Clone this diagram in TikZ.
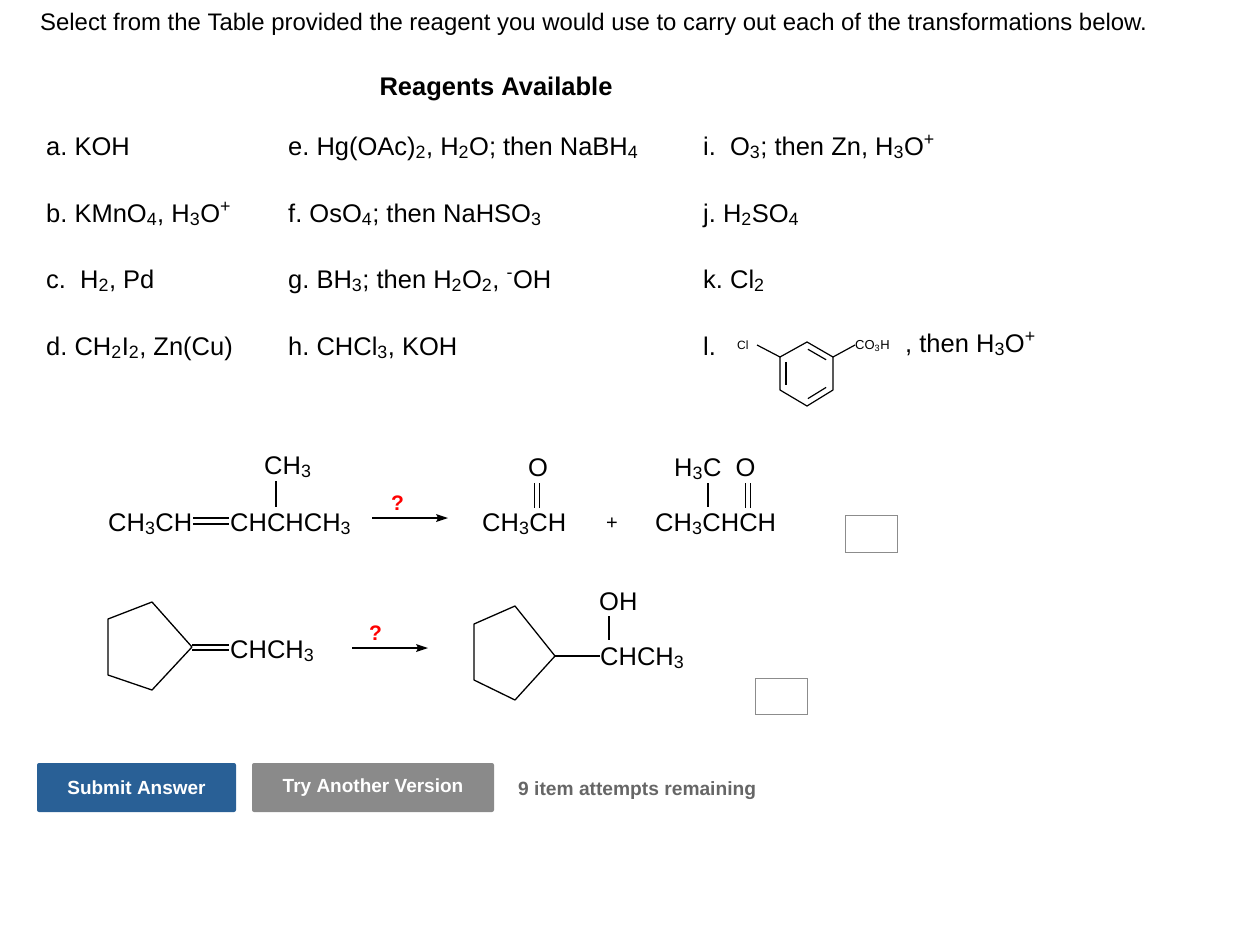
\documentclass[tikz,border=0pt]{standalone}
\usepackage{fontspec}
\setmainfont{Liberation Sans}
\usetikzlibrary{calc}
\newcommand\dn[1]{\textsubscript{#1}}
\newcommand\up[1]{\textsuperscript{#1}}
\begin{document}
\frenchspacing
\begin{tikzpicture}[x=1pt,y=-1pt,
  t/.style={anchor=base west,inner sep=0pt,font=\fontsize{25.5}{28}\selectfont},
  ch/.style={anchor=base west,inner sep=0pt,font=\fontsize{25.5}{28}\selectfont},
  bnd/.style={line width=1.3pt},
  ans/.style={draw=black!45,line width=1pt,fill=white}]
\useasboundingbox (0,0) rectangle (1236,924);
\node[t,font=\fontsize{23.9}{26}\selectfont] (title) at (40,30) {Select from the Table provided the reagent you would use to carry out each of the transformations below.};
\node[t,anchor=base,font=\bfseries\fontsize{25.5}{28}\selectfont] (hd) at (496,95) {Reagents Available};
\node[t] (a) at (46,155) {a. KOH};
\node[t] (b) at (46,222) {b. KMnO\dn4, H\dn3O\up+};
\node[t] (c) at (46,288) {c.\ \ H\dn2, Pd};
\node[t] (d) at (46,355) {d. CH\dn2I\dn2, Zn(Cu)};
\node[t] (e) at (288,155) {e. Hg(OAc)\dn2, H\dn2O; then NaBH\dn4};
\node[t] (f) at (288,222) {f. OsO\dn4; then NaHSO\dn3};
\node[t] (g) at (288,288) {g. BH\dn3; then H\dn2O\dn2, \up{-}OH};
\node[t] (h) at (288,355) {h. CHCl\dn3, KOH};
\node[t] (i) at (703,155) {i.\ \ O\dn3; then Zn, H\dn3O\up+};
\node[t] (j) at (703,222) {j. H\dn2SO\dn4};
\node[t] (k) at (703,288) {k. Cl\dn2};
\node[t] (l) at (703,355) {l.};
% benzene
\coordinate (r1) at (807,342); \coordinate (r2) at (833,357); \coordinate (r3) at (833,390);
\coordinate (r4) at (807,406); \coordinate (r5) at (780,390); \coordinate (r6) at (780,357);
\draw[line width=1.2pt,line join=round] (r1)--(r2)--(r3)--(r4)--(r5)--(r6)--cycle;
\draw[line width=1.2pt] ($(r6)!0.15!(r5)+(6,0)$) -- ($(r5)!0.15!(r6)+(6,0)$);
\draw[line width=1.2pt] ($(r1)!0.15!(r2)+(-3,5)$) -- ($(r2)!0.15!(r1)+(-3,5)$);
\draw[line width=1.2pt] ($(r3)!0.15!(r4)+(-3,-5)$) -- ($(r4)!0.15!(r3)+(-3,-5)$);
\node[t,font=\fontsize{12}{13}\selectfont] (cl) at (737,349) {Cl};
\draw[line width=1.2pt] (757,345) -- (r6);
\draw[line width=1.2pt] (r2) -- (855,345);
\node[t,font=\fontsize{13}{14}\selectfont] (co3h) at (855,349) {CO\dn3H};
\node[t] (then) at (905,352) {, then H\dn3O\up+};
% reaction 1
\node[ch] (s1a) at (108,531) {CH\dn3CH};
\node[ch] (s1b) at (230,531) {CHCHCH\dn3};
\draw[bnd] (193,518) -- (229,518); \draw[bnd] (193,524) -- (229,524);
\node[ch] (m1) at (264,474) {CH\dn3};
\draw[bnd] (276,481) -- (276,507);
\draw[line width=1.2pt] (372,518) -- (440,518);
\fill (448,518) -- (436,514) -- (438,518) -- (436,522) -- cycle;
\node[t,text=red,font=\bfseries\fontsize{21}{22}\selectfont] (q1) at (391,510) {?};
\node[ch] (p1) at (482,531) {CH\dn3CH};
\node[ch] (o1) at (528,476) {O};
\draw[bnd] (534.5,483) -- (534.5,508); \draw[bnd] (539.5,483) -- (539.5,508);
\node[t,font=\fontsize{20}{22}\selectfont] (plus) at (606,529) {+};
\node[ch] (p2) at (655,531) {CH\dn3CHCH};
\node[ch] (m2) at (674,476) {H\dn3C\ \ O};
\draw[bnd] (708,483) -- (708,507);
\draw[bnd] (745.5,483) -- (745.5,508); \draw[bnd] (750.5,483) -- (750.5,508);
\draw[ans] (845,515) rectangle (897,552);
% reaction 2
\draw[line width=1.3pt,line join=round] (192,647) -- (152,602) -- (108,619) -- (108,675) -- (152,690) -- cycle;
\draw[bnd] (192,645) -- (229,645); \draw[bnd] (192,650) -- (229,650);
\node[ch] (s2) at (230,658) {CHCH\dn3};
\draw[line width=1.2pt] (352,648) -- (420,648);
\fill (428,648) -- (416,644) -- (418,648) -- (416,652) -- cycle;
\node[t,text=red,font=\bfseries\fontsize{21}{22}\selectfont] (q2) at (369,640) {?};
\draw[line width=1.3pt,line join=round] (555,656) -- (515,606) -- (474,624) -- (474,680) -- (515,700) -- cycle;
\draw[bnd] (555,656) -- (600,656);
\node[ch] (p3) at (600,665) {CHCH\dn3};
\node[ch] (oh) at (599,610) {OH};
\draw[bnd] (609,616) -- (609,640);
\draw[ans] (755,678) rectangle (807,714);
% buttons
\fill[fill={rgb,255:red,41;green,96;blue,150},rounded corners=2pt] (37,763) rectangle (236,812);
\node[t,anchor=center,text=white,font=\bfseries\fontsize{19}{21}\selectfont] (sub) at (136.5,788) {Submit Answer};
\fill[fill={rgb,255:red,138;green,138;blue,138},rounded corners=2pt] (252,763) rectangle (494,812);
\node[t,anchor=center,text=white,font=\bfseries\fontsize{19}{21}\selectfont] (try) at (373,788) {Try Another Version};
\node[t,anchor=base west,text=black!60,font=\bfseries\fontsize{19.2}{21}\selectfont] (att) at (518,795) {9 item attempts remaining};
\end{tikzpicture}
\end{document}
